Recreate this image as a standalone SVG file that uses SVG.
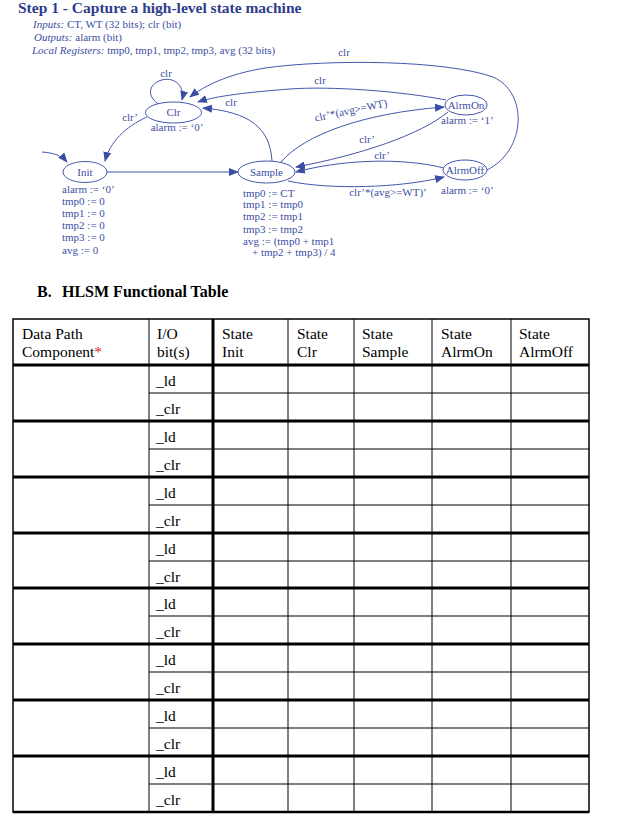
<svg xmlns="http://www.w3.org/2000/svg" width="617" height="826" viewBox="0 0 617 826">
<defs>
<style>
.t{font-family:"Liberation Serif","Times New Roman",serif;}
.d{font-family:"Liberation Serif","Times New Roman",serif;font-size:11px;fill:#3b4ea3;}
.n{fill:#ffffff;stroke:#4257ad;stroke-width:1;}
.e{fill:none;stroke:#4257ad;stroke-width:1;marker-end:url(#ah);}
.tb{font-family:"Liberation Serif","Times New Roman",serif;font-size:15.5px;fill:#000;}
.thin{stroke:#000;stroke-width:1;}
.thick{stroke:#000;stroke-width:3;}
</style>
<marker id="ah" markerWidth="10" markerHeight="8" refX="9" refY="4" orient="auto" markerUnits="userSpaceOnUse">
<path d="M0,0 L10,4 L0,8 z" fill="#3b4ea3"/>
</marker>
</defs>
<rect width="617" height="826" fill="#ffffff"/>

<!-- Title -->
<text class="t" x="18" y="13" font-size="15.5" font-weight="bold" fill="#2e3c8c">Step 1 - Capture a high-level state machine</text>
<text class="d" x="33" y="28"><tspan font-style="italic">Inputs:</tspan> CT, WT (32 bits); clr (bit)</text>
<text class="d" x="34" y="41"><tspan font-style="italic">Outputs:</tspan> alarm (bit)</text>
<text class="d" x="32" y="53.5"><tspan font-style="italic">Local Registers:</tspan> tmp0, tmp1, tmp2, tmp3, avg (32 bits)</text>

<!-- Connectors -->
<g id="connectors">
<path class="e" d="M42,152 C55,153 62,156 67,162"/>
<path class="e" d="M107,172 L238,172"/>
<path class="e" d="M147,117 C125,127 110,142 105,161"/>
<path class="e" d="M158,104 C140,90 158,76 172,80 C181,83 184,92 182,100"/>
<path class="e" d="M487,170 C527,150 528,92 493,77 C445,60 330,59 265,68 C228,74 204,86 190,97"/>
<path class="e" d="M446,100 C400,91 330,86 290,89 C250,92 215,96 198,102"/>
<path class="e" d="M272,161 C270,128 250,112 203,108"/>
<path class="e" d="M281,162 C305,134 365,113 444,107"/>
<path class="e" d="M448,112 C420,135 360,155 296,167"/>
<path class="e" d="M444,168 C400,157 340,160 296,172"/>
<path class="e" d="M288,181 C330,190 400,188 444,177"/>
</g>

<!-- Edge labels -->
<g id="edge-labels">
<text class="d" x="166" y="77" text-anchor="middle">clr</text>
<text class="d" x="130" y="121" text-anchor="middle">clr’</text>
<text class="d" x="231" y="106" text-anchor="middle">clr</text>
<text class="d" x="320" y="84" text-anchor="middle">clr</text>
<text class="d" x="344" y="56" text-anchor="middle">clr</text>
<text class="d" x="351" y="114" text-anchor="middle" transform="rotate(-12 351 111)">clr’*(avg&gt;=WT)</text>
<text class="d" x="367" y="143" text-anchor="middle">clr’</text>
<text class="d" x="382" y="159" text-anchor="middle">clr’</text>
<text class="d" x="388" y="196" text-anchor="middle">clr’*(avg&gt;=WT)’</text>
</g>

<!-- Nodes -->
<g id="node-clr">
<ellipse class="n" cx="173.5" cy="112.5" rx="28" ry="10.5"/>
<text class="d" x="173.5" y="116" text-anchor="middle">Clr</text>
<text class="d" x="177" y="131" text-anchor="middle">alarm := ‘0’</text>
</g>
<g id="node-init">
<ellipse class="n" cx="85" cy="172" rx="22" ry="10.5"/>
<text class="d" x="85" y="175.5" text-anchor="middle">Init</text>
<text class="d" x="62" y="193">alarm := ‘0’</text>
<text class="d" x="62" y="205">tmp0 := 0</text>
<text class="d" x="62" y="216.5">tmp1 := 0</text>
<text class="d" x="62" y="229">tmp2 := 0</text>
<text class="d" x="62" y="241">tmp3 := 0</text>
<text class="d" x="62" y="254">avg := 0</text>
</g>
<g id="node-sample">
<ellipse class="n" cx="266.5" cy="172" rx="28.5" ry="11"/>
<text class="d" x="266.5" y="175.5" text-anchor="middle">Sample</text>
<text class="d" x="243" y="196.5">tmp0 := CT</text>
<text class="d" x="243" y="207.5">tmp1 := tmp0</text>
<text class="d" x="243" y="220">tmp2 := tmp1</text>
<text class="d" x="243" y="232.5">tmp3 := tmp2</text>
<text class="d" x="243" y="244.5">avg := (tmp0 + tmp1</text>
<text class="d" x="252" y="255.5">+ tmp2 + tmp3) / 4</text>
</g>
<g id="node-alrmon">
<ellipse class="n" cx="466" cy="105" rx="21" ry="10"/>
<text class="d" x="466" y="108.5" text-anchor="middle">AlrmOn</text>
<text class="d" x="441" y="123.5">alarm := ‘1’</text>
</g>
<g id="node-alrmoff">
<ellipse class="n" cx="465" cy="170" rx="22" ry="10"/>
<text class="d" x="465" y="173.5" text-anchor="middle">AlrmOff</text>
<text class="d" x="441" y="193.5">alarm := ‘0’</text>
</g>

<!-- Section B -->
<g id="section-b" font-size="16" font-weight="bold" fill="#000">
<text class="t" x="37" y="297">B.</text>
<text class="t" x="62" y="297">HLSM Functional Table</text>
</g>

<!-- Table -->
<g id="table">
<g id="table-lines" fill="none">
<line class="thin" x1="149" y1="319" x2="149" y2="812"/>
<line class="thin" x1="288" y1="319" x2="288" y2="812"/>
<line class="thin" x1="354" y1="319" x2="354" y2="812"/>
<line class="thin" x1="432" y1="319" x2="432" y2="812"/>
<line class="thin" x1="511" y1="319" x2="511" y2="812"/>
<line class="thick" x1="213" y1="319" x2="213" y2="812"/>
<line class="thin" x1="149" y1="393" x2="589" y2="393"/>
<line class="thin" x1="149" y1="449" x2="589" y2="449"/>
<line class="thin" x1="149" y1="505" x2="589" y2="505"/>
<line class="thin" x1="149" y1="561" x2="589" y2="561"/>
<line class="thin" x1="149" y1="616" x2="589" y2="616"/>
<line class="thin" x1="149" y1="672" x2="589" y2="672"/>
<line class="thin" x1="149" y1="728" x2="589" y2="728"/>
<line class="thin" x1="149" y1="784" x2="589" y2="784"/>
<line class="thick" x1="13" y1="365" x2="589" y2="365"/>
<line class="thick" x1="13" y1="421" x2="589" y2="421"/>
<line class="thick" x1="13" y1="477" x2="589" y2="477"/>
<line class="thick" x1="13" y1="533" x2="589" y2="533"/>
<line class="thick" x1="13" y1="588" x2="589" y2="588"/>
<line class="thick" x1="13" y1="644" x2="589" y2="644"/>
<line class="thick" x1="13" y1="700" x2="589" y2="700"/>
<line class="thick" x1="13" y1="756" x2="589" y2="756"/>
<rect x="13" y="319" width="576" height="493" stroke="#000" stroke-width="1.5"/>
<line stroke="#000" stroke-width="2.5" x1="13" y1="812" x2="589" y2="812"/>
</g>
<g id="table-header">
<text class="tb" x="22" y="339">Data Path</text>
<text class="tb" x="22" y="357">Component<tspan fill="#e0202a">*</tspan></text>
<text class="tb" x="157" y="339">I/O</text>
<text class="tb" x="157" y="357">bit(s)</text>
<text class="tb" x="222" y="339">State</text>
<text class="tb" x="222" y="357">Init</text>
<text class="tb" x="297" y="339">State</text>
<text class="tb" x="297" y="357">Clr</text>
<text class="tb" x="362" y="339">State</text>
<text class="tb" x="362" y="357">Sample</text>
<text class="tb" x="441" y="339">State</text>
<text class="tb" x="441" y="357">AlrmOn</text>
<text class="tb" x="519" y="339">State</text>
<text class="tb" x="519" y="357">AlrmOff</text>
</g>
<g id="table-io">
<text class="tb" x="156" y="386">_ld</text>
<text class="tb" x="156" y="414">_clr</text>
<text class="tb" x="156" y="442">_ld</text>
<text class="tb" x="156" y="470">_clr</text>
<text class="tb" x="156" y="498">_ld</text>
<text class="tb" x="156" y="526">_clr</text>
<text class="tb" x="156" y="554">_ld</text>
<text class="tb" x="156" y="582">_clr</text>
<text class="tb" x="156" y="609">_ld</text>
<text class="tb" x="156" y="637">_clr</text>
<text class="tb" x="156" y="665">_ld</text>
<text class="tb" x="156" y="693">_clr</text>
<text class="tb" x="156" y="721">_ld</text>
<text class="tb" x="156" y="749">_clr</text>
<text class="tb" x="156" y="777">_ld</text>
<text class="tb" x="156" y="805">_clr</text>
</g>
</g>
</svg>
